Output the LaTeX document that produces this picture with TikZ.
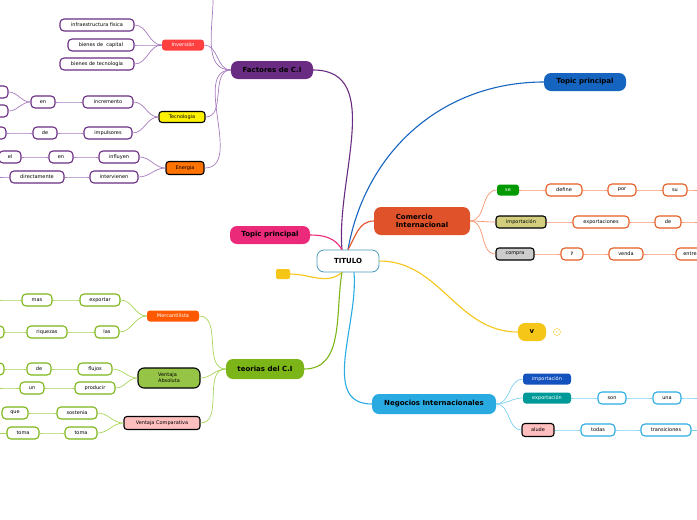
\documentclass[tikz,border=0pt]{standalone}
\usepackage{fontspec}
\setmainfont{DejaVu Sans}
\begin{document}
\begin{tikzpicture}[x=1pt,y=-1pt,
  main/.style={rounded corners=7pt,minimum height=18pt,font=\fontsize{7}{8}\selectfont\bfseries,inner sep=2pt,align=left},
  sub/.style={rounded corners=3pt,minimum height=11pt,font=\fontsize{5}{6}\selectfont,inner sep=1pt},
  leaf/.style={rounded corners=4pt,minimum height=12pt,font=\fontsize{5}{6}\selectfont,inner sep=1pt,fill=white,line width=1.1pt},
  blk/.style={draw=black,line width=1.1pt},
  pc/.style={draw=#1,line width=0.7pt},
  mc/.style={draw=#1,line width=1.1pt}]
\useasboundingbox (0,0) rectangle (697,520);
\definecolor{pur}{HTML}{6A2C83}\definecolor{purl}{HTML}{A77BC0}
\definecolor{grn}{HTML}{7CB518}\definecolor{grnl}{HTML}{A8D45A}
\definecolor{org}{HTML}{E0522A}\definecolor{orgl}{HTML}{F7936E}
\definecolor{blu}{HTML}{29ABE2}\definecolor{blul}{HTML}{7CCFF2}
\definecolor{dblu}{HTML}{1565C0}\definecolor{pnk}{HTML}{EC2A7A}
\definecolor{yel}{HTML}{F5C518}
% central and main
\node[main,draw=blu!60!gray,fill=white,minimum width=62pt,minimum height=22pt,align=center,line width=0.8pt] (t) at (348,261) {TITULO};
\node[main,fill=org,minimum width=96pt,minimum height=28pt] (ci) at (422,221) {Comercio\\Internacional};
\node[main,fill=dblu,minimum width=82pt,align=center] (tp1) at (585,82) {Topic principal};
\node[main,fill=pnk,minimum width=80pt,align=center] (tp2) at (270,235) {Topic principal};
\node[rounded corners=2pt,fill=yel,minimum width=14pt,minimum height=10pt,inner sep=0] (yb) at (283,274) {};
\node[main,fill=yel,minimum width=28pt,align=center] (v) at (532,332) {v};
\node[circle,draw=yel,minimum size=7pt,inner sep=0,font=\fontsize{4}{4}\selectfont,text=yel] (vc) at (557,332) {+};
\node[main,fill=blu,minimum width=124pt,minimum height=20pt,align=center] (ni) at (434,404) {Negocios Internacionales};
\node[main,fill=grn,minimum width=78pt,minimum height=20pt,align=center] (tc) at (265,369) {teorias del C.I};
\node[main,fill=pur,minimum width=82pt,align=center] (fc) at (272,70) {Factores de C.I};
\coordinate (top) at (213,0);
\coordinate (tn) at ([xshift=-6pt]t.north);
\coordinate (ts) at ([xshift=6pt]t.south);
\coordinate (tsw) at ([xshift=-6pt]t.south);
\draw[mc=pur] (fc.east) to[out=0,in=95] (tn);
\draw[pc=purl] (fc.west) to[out=180,in=-90] (top) ;
\draw[mc=dblu] (t.north) to[out=80,in=180] (tp1.west);
\draw[mc=org] (t.north) to[out=60,in=180] (ci.west);
\draw[mc=pnk] (tn) to[out=120,in=0] (tp2.east);
\draw[mc=yel] (tsw) to[out=220,in=0] (yb.east);
\draw[mc=yel] (t.east) to[out=0,in=180] (v.west);
\draw[mc=blu] (ts) to[out=-85,in=180] (ni.west);
\draw[mc=grn] (tsw) to[out=-100,in=0] (tc.east);
% purple
\node[sub,fill=red!75!white,text=white,minimum width=42pt] (inv) at (183,45) {Inversión};
\node[leaf,draw=pur,minimum width=74pt] (if) at (97,25) {infraestructura fisica};
\node[leaf,draw=pur,minimum width=66pt] (bc) at (101,45) {bienes de \ capital};
\node[leaf,draw=pur,minimum width=74pt] (bt) at (97,64) {bienes de tecnologia};
\node[sub,fill=yellow,blk,minimum width=46pt] (tec) at (182,117) {Tecnologia};
\node[leaf,draw=pur,minimum width=50pt] (inc) at (108,102) {incremento};
\node[leaf,draw=pur,minimum width=24pt] (en1) at (43,102) {en};
\node[leaf,draw=pur,minimum width=24pt] (x1) at (-4,92) {};
\node[leaf,draw=pur,minimum width=24pt] (x2) at (-4,111) {};
\node[leaf,draw=pur,minimum width=48pt] (imp) at (108,133) {impulsores};
\node[leaf,draw=pur,minimum width=24pt] (de1) at (45,133) {de};
\node[leaf,draw=pur,minimum width=24pt] (x3) at (-6,133) {};
\node[sub,fill=orange!90!red,blk,minimum width=38pt,minimum height=13pt] (ene) at (185,168) {Energia};
\node[leaf,draw=pur,minimum width=40pt] (inf) at (119,157) {influyen};
\node[leaf,draw=pur,minimum width=24pt] (en2) at (61,157) {en};
\node[leaf,draw=pur,minimum width=22pt] (el) at (10,157) {el};
\node[leaf,draw=pur,minimum width=48pt] (int) at (114,177) {intervienen};
\node[leaf,draw=pur,minimum width=54pt] (dir) at (37,177) {directamente};
\coordinate (e1) at (0,177);
\foreach \a in {inv,tec,ene} \draw[pc=purl] (fc.west) to[out=180,in=0] (\a.east);
\foreach \a in {if,bc,bt} \draw[pc=purl] (inv.west) to[out=180,in=0] (\a.east);
\foreach \a/\b in {tec/inc,inc/en1,tec/imp,imp/de1,de1/x3,ene/inf,inf/en2,en2/el,ene/int,int/dir,dir/e1,en1/x1,en1/x2} \draw[pc=purl] (\a.west) to[out=180,in=0] (\b.east);
% green
\node[sub,fill=orange!70!red,text=white,minimum width=52pt] (mer) at (173,316) {Mercantilista};
\node[leaf,draw=grn,minimum width=40pt] (exp) at (100,300) {exportar};
\node[leaf,draw=grn,minimum width=30pt] (mas) at (37,300) {mas};
\node[leaf,draw=grn,minimum width=24pt] (las) at (107,332) {las};
\node[leaf,draw=grn,minimum width=40pt] (riq) at (47,332) {riquezas};
\node[leaf,draw=grn,minimum width=24pt] (x4) at (-8,332) {};
\node[sub,fill=grn!80!white,blk,minimum width=62pt,minimum height=20pt,align=left,rounded corners=6pt] (va) at (169,378) {Ventaja\\Absoluta};
\node[leaf,draw=grn,minimum width=34pt] (flu) at (95,369) {flujos};
\node[leaf,draw=grn,minimum width=24pt] (de2) at (39,369) {de};
\node[leaf,draw=grn,minimum width=24pt] (x5) at (-8,369) {};
\node[leaf,draw=grn,minimum width=40pt] (pro) at (95,388) {producir};
\node[leaf,draw=grn,minimum width=24pt] (un) at (32,388) {un};
\node[sub,fill=pink,blk,minimum width=76pt,minimum height=13pt] (vc2) at (162,423) {Ventaja Comparativa};
\node[leaf,draw=grn,minimum width=40pt] (sos) at (77,413) {sostenia};
\node[leaf,draw=grn,minimum width=26pt] (que) at (15,413) {que};
\node[leaf,draw=grn,minimum width=32pt] (tm1) at (81,433) {toma};
\node[leaf,draw=grn,minimum width=32pt] (tm2) at (23,433) {toma};
\coordinate (g1) at (0,300);\coordinate (g2) at (0,388);\coordinate (g3) at (0,433);
\foreach \a in {mer,va,vc2} \draw[pc=grnl] (tc.west) to[out=180,in=0] (\a.east);
\foreach \a/\b in {mer/exp,exp/mas,mas/g1,mer/las,las/riq,riq/x4,va/flu,flu/de2,de2/x5,va/pro,pro/un,un/g2,vc2/sos,sos/que,vc2/tm1,tm1/tm2,tm2/g3} \draw[pc=grnl] (\a.west) to[out=180,in=0] (\b.east);
% orange
\node[sub,fill=green!60!black,text=white,minimum width=22pt] (se) at (508,190) {se};
\node[leaf,draw=org!80!orange,minimum width=36pt] (def) at (564,190) {define};
\node[leaf,draw=org!80!orange,minimum width=28pt] (por) at (622,190) {por};
\node[leaf,draw=org!80!orange,minimum width=24pt] (su) at (675,190) {su};
\node[sub,fill=olive!40!white,blk,minimum width=50pt,minimum height=12pt] (im) at (521,222) {importación};
\node[leaf,draw=org!80!orange,minimum width=56pt] (exs) at (601,222) {exportaciones};
\node[leaf,draw=org!80!orange,minimum width=26pt] (de3) at (668,222) {de};
\node[sub,fill=gray!40,blk,minimum width=38pt,minimum height=12pt] (com) at (515,254) {compra};
\node[leaf,draw=org!80!orange,minimum width=22pt] (y) at (572,254) {y};
\node[leaf,draw=org!80!orange,minimum width=34pt] (ven) at (626,254) {venda};
\node[leaf,draw=org!80!orange,minimum width=28pt] (ent) at (690,254) {entre};
\coordinate (o1) at (697,190);\coordinate (o2) at (697,222);
\foreach \a in {se,im,com} \draw[pc=orgl] (ci.east) to[out=0,in=180] (\a.west);
\foreach \a/\b in {se/def,def/por,por/su,su/o1,im/exs,exs/de3,de3/o2,com/y,y/ven,ven/ent} \draw[pc=orgl] (\a.east) to[out=0,in=180] (\b.west);
% blue
\node[sub,fill=blue!40!blu!80!black,text=white,minimum width=48pt] (bi) at (547,379) {importación};
\node[sub,fill=teal!80!cyan,text=white,minimum width=48pt] (be) at (547,398) {exportación};
\node[leaf,draw=blu,minimum width=28pt] (son) at (612,398) {son};
\node[leaf,draw=blu,minimum width=28pt] (una) at (667,398) {una};
\node[sub,fill=pink,blk,minimum width=32pt,minimum height=13pt] (alu) at (538,430) {alude};
\node[leaf,draw=blu,minimum width=34pt] (tod) at (598,430) {todas};
\node[leaf,draw=blu,minimum width=50pt] (tra) at (666,430) {transiciones};
\coordinate (b1) at (697,398);\coordinate (b2) at (697,430);
\foreach \a in {bi,be,alu} \draw[pc=blul] (ni.east) to[out=0,in=180] (\a.west);
\foreach \a/\b in {be/son,son/una,una/b1,alu/tod,tod/tra,tra/b2} \draw[pc=blul] (\a.east) to[out=0,in=180] (\b.west);
\end{tikzpicture}
\end{document}
